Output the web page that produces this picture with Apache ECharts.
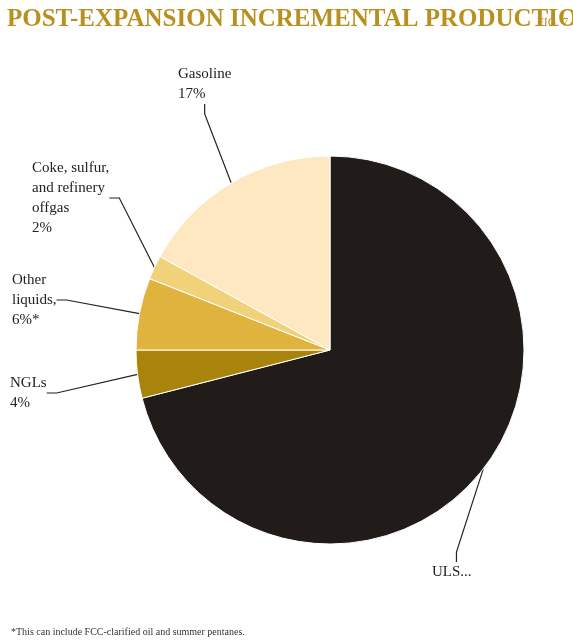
<!DOCTYPE html>
<html><head><meta charset="utf-8">
<script src="https://cdn.jsdelivr.net/npm/echarts@6/dist/echarts.min.js"></script>
<style>html,body{margin:0;background:#fff}#c{width:573px;height:640px}</style>
</head><body><div id="c"></div>
<script>
var names = ['ULSD', 'NGLs', 'Other liquids', 'Coke, sulfur, and refinery offgas', 'Gasoline'];
var labels = ['ULSD, 71%', 'NGLs\n4%', 'Other\nliquids,\n6%*', 'Coke, sulfur,\nand refinery\noffgas\n2%', 'Gasoline\n17%'];
var values = [71, 4, 6, 2, 17];
var colors = ['#211c19', '#a8840c', '#dfb33e', '#f1d27a', '#fde8c2'];
// label anchor points (px) for the leader-line ends
var labelPos = [[432, 582], [10, 413], [12, 330], [32, 238], [178, 104]];

var chart = echarts.init(document.getElementById('c'));
chart.setOption({
  title: [
    {text: 'POST-EXPANSION INCREMENTAL PRODUCTION YEILDS', left: 2, top: 2,
     textStyle: {fontFamily: 'Liberation Sans Narrow', fontWeight: 'bold', fontSize: 25, color: '#b8901e'}},
    {text: 'FIG. 7', left: 532, top: 12,
     textStyle: {fontFamily: 'Liberation Sans Narrow', fontSize: 12, fontWeight: 'normal', color: '#b8901e'}},
    {text: '*This can include FCC-clarified oil and summer pentanes.', left: 6, top: 622,
     textStyle: {fontFamily: 'Liberation Sans Narrow', fontSize: 10, fontWeight: 'normal', color: '#333'}}
  ],
  series: [{
    type: 'pie',
    center: [330, 350],
    radius: 194,
    startAngle: 90,
    clockwise: true,
    animation: false,
    itemStyle: {borderColor: '#fff', borderWidth: 1},
    label: {
      show: true, color: '#222', fontSize: 15, lineHeight: 20,
      fontFamily: 'Liberation Sans Narrow',
      formatter: function (p) { return labels[p.dataIndex]; }
    },
    labelLine: {show: true, length: 20, length2: 10, lineStyle: {color: '#222', width: 1.2}},
    labelLayout: function (p) {
      var q = labelPos[p.dataIndex];
      return {x: q[0], y: q[1], align: 'left', verticalAlign: 'bottom', hideOverlap: false};
    },
    data: names.map(function (n, i) {
      return {name: n, value: values[i], itemStyle: {color: colors[i]}};
    })
  }]
});
</script></body></html>
